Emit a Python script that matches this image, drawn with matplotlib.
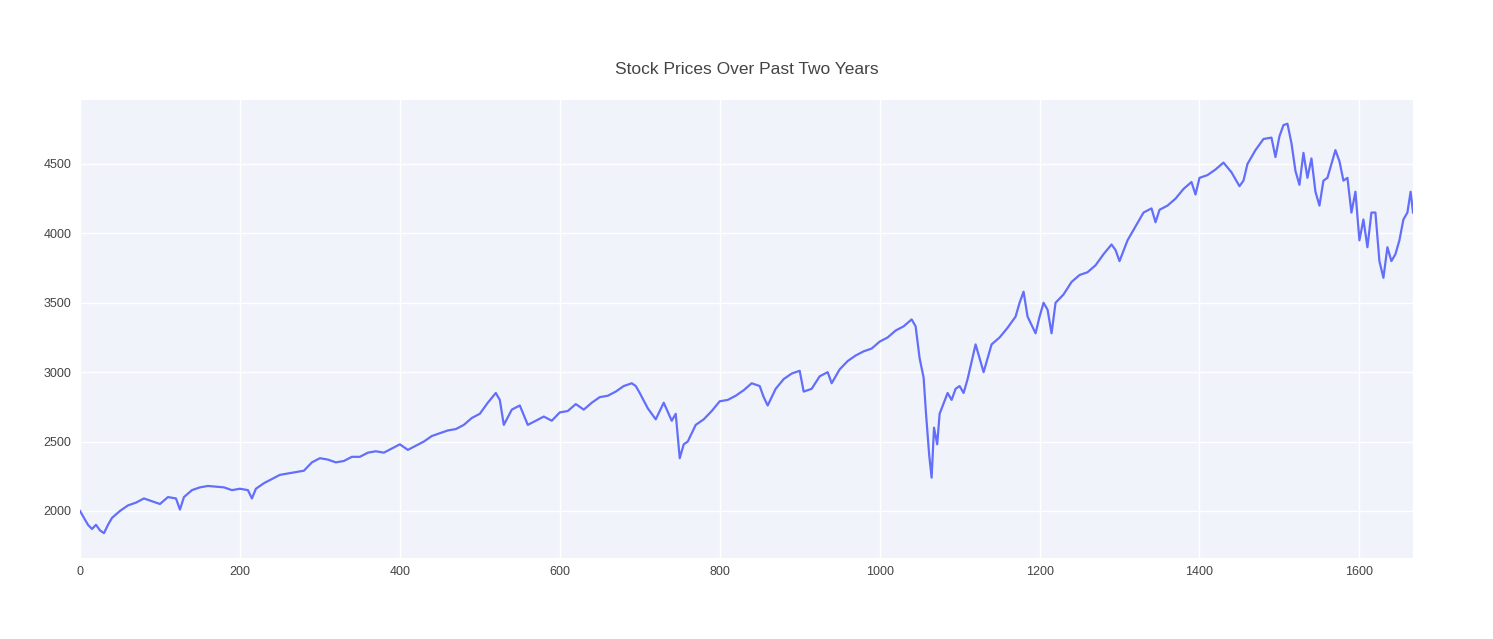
import matplotlib
matplotlib.use("Agg")
import matplotlib.pyplot as plt
plt.rcParams["font.family"] = "Liberation Sans"

day = [0,5,10,15,20,25,30,35,40,50,60,70,80,90,100,110,120,125,130,140,150,160,170,180,190,200,210,215,220,230,240,250,260,270,280,290,300,310,320,330,340,350,360,370,380,390,400,410,420,430,440,450,460,470,480,490,500,510,520,525,530,540,550,560,570,580,590,600,610,620,630,640,650,660,670,680,690,695,700,710,720,730,740,745,750,755,760,770,780,790,800,810,820,830,840,850,855,860,870,880,890,900,905,915,925,935,940,950,960,970,980,990,1000,1010,1020,1030,1040,1045,1050,1055,1058,1062,1065,1068,1072,1075,1085,1090,1095,1100,1105,1110,1120,1125,1130,1140,1150,1160,1170,1175,1180,1185,1195,1200,1205,1210,1215,1220,1230,1240,1250,1260,1270,1280,1290,1295,1300,1310,1320,1330,1340,1345,1350,1360,1370,1380,1390,1395,1400,1410,1420,1430,1440,1450,1455,1460,1470,1480,1490,1495,1500,1505,1510,1515,1520,1525,1530,1535,1540,1545,1550,1555,1560,1570,1575,1580,1585,1590,1595,1600,1605,1610,1615,1620,1625,1630,1635,1640,1645,1650,1655,1660,1664,1667]
price = [2000,1950,1900,1870,1900,1860,1840,1900,1950,2000,2040,2060,2090,2070,2050,2100,2090,2010,2100,2150,2170,2180,2175,2170,2150,2160,2150,2090,2160,2200,2230,2260,2270,2280,2290,2350,2380,2370,2350,2360,2390,2390,2420,2430,2420,2450,2480,2440,2470,2500,2540,2560,2580,2590,2620,2670,2700,2780,2850,2800,2620,2730,2760,2620,2650,2680,2650,2710,2720,2770,2730,2780,2820,2830,2860,2900,2920,2900,2850,2740,2660,2780,2650,2700,2380,2480,2500,2620,2660,2720,2790,2800,2830,2870,2920,2900,2820,2760,2880,2950,2990,3010,2860,2880,2970,3000,2920,3020,3080,3120,3150,3170,3220,3250,3300,3330,3380,3330,3100,2960,2700,2400,2240,2600,2480,2700,2850,2800,2880,2900,2850,2950,3200,3100,3000,3200,3250,3320,3400,3500,3580,3400,3280,3400,3500,3450,3280,3500,3560,3650,3700,3720,3770,3850,3920,3880,3800,3950,4050,4150,4180,4080,4170,4200,4250,4320,4370,4280,4400,4420,4460,4510,4440,4340,4380,4500,4600,4680,4690,4550,4700,4780,4790,4650,4450,4350,4580,4400,4540,4300,4200,4380,4400,4600,4520,4380,4400,4150,4300,3950,4100,3900,4150,4150,3800,3680,3900,3800,3850,3950,4100,4150,4300,4150]
title = "Stock Prices Over Past Two Years"

fig = plt.figure(figsize=(14.93, 6.39), dpi=100)
ax = fig.add_axes([80/1493, 1-558/639, 1333/1493, 458/639])
ax.set_facecolor("#E5ECF6")
ax.patch.set_alpha(0.55)
ax.plot(day, price, color="#636EFA", lw=1.6)
ax.set_xlim(0, 1667)
ax.set_ylim(1661, 4961)
ax.set_xticks(range(0, 1601, 200))
ax.set_yticks(range(2000, 4501, 500))
ax.grid(color="white", lw=1)
ax.set_axisbelow(True)
for s in ax.spines.values():
    s.set_visible(False)
ax.tick_params(length=0, labelsize=9, colors="#444444", pad=6)
fig.text(0.5, 1-70/639, title, ha="center", va="center", fontsize=12.5, color="#444444")
fig.savefig("out.png", dpi=100)
